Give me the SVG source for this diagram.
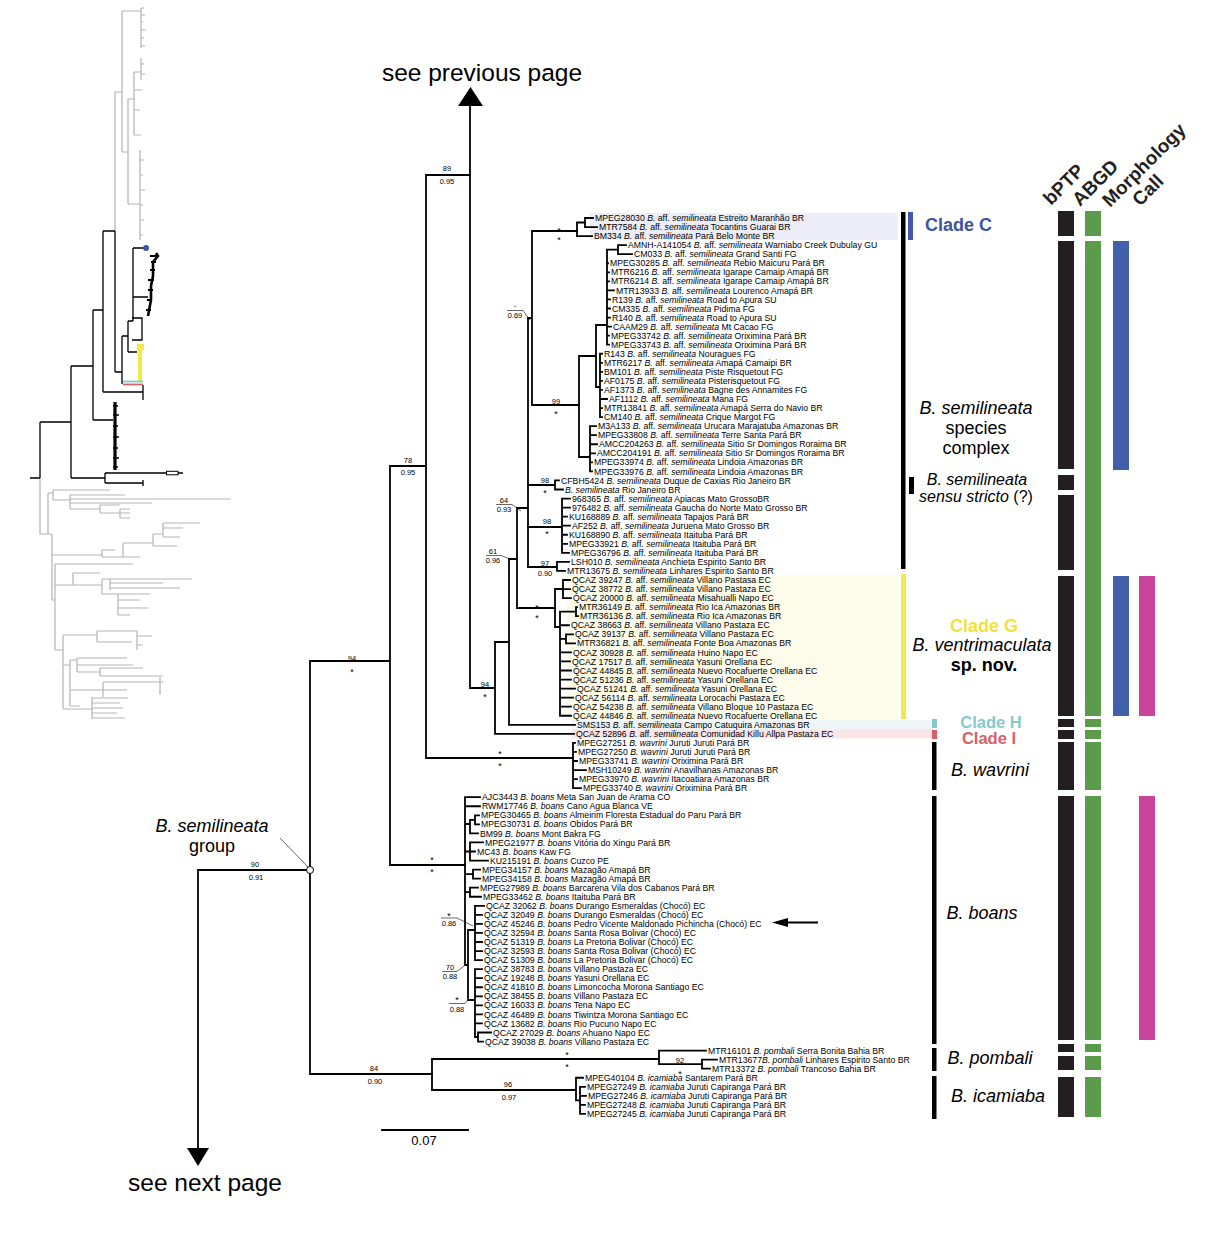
<svg xmlns="http://www.w3.org/2000/svg" width="1213" height="1258" viewBox="0 0 1213 1258">
<style>
text{font-family:'Liberation Sans',Arial,Helvetica,sans-serif;fill:#000}
.b{fill:none;stroke:#000;stroke-width:1.8;stroke-linecap:square}
.tb{fill:none;stroke:#000;stroke-width:1.3}
.tg{fill:none;stroke:#b3b3b3;stroke-width:1.2}
.thin{fill:none;stroke:#000;stroke-width:0.6}
.tl{font-size:8.7px}
.i{font-style:italic}
.s{font-size:7.5px;text-anchor:middle}
.ast{font-size:9px;text-anchor:middle}
.lab{font-size:18px;text-anchor:middle}
.bold{font-weight:bold}
.hd{font-size:19px;font-weight:bold;fill:#231f20}
.bp{fill:#231f20}
.ab{fill:#5b9b4b}
.mo{fill:#4060aa}
.ca{fill:#c9449b}
</style>
<rect width="1213" height="1258" fill="#fff"/>

<g id="thumbnail">
<path class="tg" d="M115,231V92H122M122,11V152M122,11H141M141,8V48M141,8H144M141,15H145M141,22H143M141,30H146M141,38H144M141,46H145M122,152H128M128,99V204M128,99H134M134,72V135M134,72H141M134,90H142M134,110H140M134,135H141M141,58V80M141,64H144M141,74H145M128,204H140M140,150V240M140,160H144M140,175H143M140,190H145M140,205H143M140,220H144M140,235H143"/>
<path class="tg" d="M40,478V534H52M48,493V534M48,493H53M53,490V500M53,490H110M53,500H70M70,495V509M70,495H125M70,499H231M70,503H152M70,509H100M100,505V513M100,505H120M100,513H130M120,509V518M120,509H130M120,518H130M52,534V600M52,555H102M102,550V557M102,557H123M102,550H115M123,543V557M123,543H153M123,557H140M153,534V546M153,534H163M153,546H177M163,523V537M163,523H200M163,528H183M163,537H180M52,600H55M55,564V650M55,564H133M55,585H73M73,573V585M73,573H100M73,585H102M102,579V594M102,579H192M102,594H118M118,594V615M118,594H150M118,600H140M118,608H148M118,615H130M110,579V590M110,583H163M110,588H180M55,650H63M63,635V709M63,635H97M97,631V642M97,631H137M97,642H132M137,631V650M137,636H152M137,645H143M63,665H70M70,660V706M70,660H77M77,658V672M77,658H127M77,665H133M77,672H100M100,668V676M100,668H143M100,676H163M70,690H103M103,682V697M103,682H163M103,690H127M160,677V695M70,706H80M63,709H92M92,697V719M92,698H128M92,703H120M92,708H123M92,713H117M92,718H125"/>
<path class="tb" d="M30,478H40M40,422V478M40,422H71M71,366V478M71,478H105M105,473V483M105,473H167M178,473H183M105,483H143M143,480V486M71,366H93M93,310V420M93,420H113M93,310H103M103,231V392M103,392H143M143,385V400M103,231H115M115,231V372M115,372H122M122,336V384M122,336H128M128,321V352M128,352H137M128,321H133M133,248V321M133,248H143M133,297H148M132,318H142V340H132"/>
<rect x="166.5" y="471.3" width="11.5" height="3.5" fill="none" stroke="#000" stroke-width="1"/>
<path d="M156,253L158,256L153,262V276L151,286V300L148,316" fill="none" stroke="#000" stroke-width="2.6"/>
<path d="M150,256H158M151,262H156M150,270H155M148,280H154M148,290H153M147,300H152M146,310H151" fill="none" stroke="#000" stroke-width="2"/>
<path d="M115,402V470" fill="none" stroke="#000" stroke-width="3.2"/>
<path class="tb" d="M113,406H118M113,415H119M113,426H118M113,437H119M113,448H118M113,458H119M113,467H118"/>
<circle cx="146" cy="248" r="3" fill="#3f54a3"/>
<path d="M137,344H144V350H142V381H138V350H137Z" fill="#f3e84a"/>
<path d="M123,381.5H143" stroke="#86c9cc" stroke-width="1.8"/>
<path d="M123,384.5H143" stroke="#d5606b" stroke-width="1.8"/>
</g>

<g id="highlights">
<rect x="590" y="213" width="308" height="27" fill="#ecedf6"/>
<rect x="567" y="575" width="331" height="145" fill="#fdfbe9"/>
<rect x="572" y="720.3" width="361" height="9" fill="#edf5f6"/>
<rect x="572" y="729.3" width="361" height="9" fill="#f9e5e8"/>
</g>

<g id="connectors">
<path class="b" d="M198,870V1148M198,870H310M310,661V1074M310,661H390M310,1074H432M390,466V865M390,466H426M390,865H465M426,175V758M426,175H470M426,758H573M470,106V688M470,688H495M495,642V733.85M495,642H509M495,733.85H574M509,559V724.8M509,559H517M509,724.8H575M517,508V608M517,508H528M517,608H555M528,318V567M528,318H532M532,231V405M532,231H577M532,405H579"/>
<path class="b" d="M577,222.5V236.1M577,222.5H585M585,218V227.05M585,218H593M585,227.05H597M577,236.1H592"/>
<path class="b" d="M579,356V457M579,356H596M579,457H590M596,325V387M596,325H607M596,387H600M607,249.7V344.7M607,249.7H618M618,245.15V254.2M618,245.15H626M618,254.2H632M607,263.25H608M607,272.3H609M607,281.35H609M607,290.4H614M607,299.45H610M607,308.5H610M607,317.55H610M607,326.6H611M607,335.65H609M607,344.7H609M600,353.75V417.1M600,353.75H602M600,362.8H602M600,371.85H602M600,380.9H602M600,389.95H602M600,399H607M600,408.05H602M600,417.1H602M590,426.15V471.4M590,426.15H596M590,435.2H596M590,444.25H597M590,453.3H595M590,462.35H592M590,471.4H592"/>
<path class="b" d="M528,485H555M555,480.45V489.5M555,480.45H559M555,489.5H563M528,527H562M562,498.55V552.85M562,498.55H570M562,507.6H570M562,516.65H567M562,525.7H570M562,534.75H567M562,543.8H567M562,552.85H569M528,567H557M557,561.9V570.95M557,561.9H569M557,570.95H565"/>
<path class="b" d="M555,589V627M555,589H563M563,580V598.1M563,580H570M563,589.05H570M563,598.1H571M555,627H560M560,611.7V715.75M560,611.7H576M576,607.15V616.2M576,607.15H577M576,616.2H578M560,625.25H569M560,638.8H566M566,634.3V643.35M566,634.3H573M566,643.35H575M560,652.4H571M560,661.45H570M560,670.5H571M560,679.55H571M560,688.6H575M560,697.65H573M560,706.7H571M560,715.75H571"/>
<path class="b" d="M573,742.9V788.15M573,742.9H575M573,751.95H576M573,761H577M573,770.05H586M573,779.1H577M573,788.15H581"/>
<path class="b" d="M465,797.2V965M465,797.2H480M465,806.25H480M465,824H470M470,819.8V833.4M470,819.8H475M475,815.3V824.35M475,815.3H479M475,824.35H479M470,833.4H478M465,851.5H470M470,842.45V860.55M470,842.45H483M470,851.5H475M470,860.55H488M465,874.1H473M473,869.6V878.65M473,869.6H480M473,878.65H480M465,892.2H470M470,887.7V896.75M470,887.7H478M470,896.75H481M465,965H468M468,930V1000M468,930H475M475,905.8V960.1M475,905.8H484M475,914.85H482M475,923.9H482M475,932.95H482M475,942H482M475,951.05H482M475,960.1H482M468,1000H475M475,969.15V1037M475,969.15H482M475,978.2H482M475,987.25H482M475,996.3H482M475,1005.35H482M475,1014.4H482M475,1023.45H482M475,1037H478M478,1032.5V1041.55M478,1032.5H491M478,1041.55H483"/>
<path class="b" d="M432,1059V1090M432,1059H659M659,1050.6V1064.2M659,1050.6H706M659,1064.2H702M702,1059.65V1068.7M702,1059.65H717M702,1068.7H710M432,1090H576M576,1077.75V1100.4M576,1077.75H583M576,1100.4H580M580,1086.8V1113.95M580,1086.8H585M580,1095.85H586M580,1104.9H585M580,1113.95H585"/>
<path class="thin" d="M280,838L308,867M507,310.5H523L530,320M496,504.5H512L521,511M486,555.5H501L510,559M441,918H457L473,926M442,971.5H457L464,966M449,1003.5H465L469,999"/>
<circle cx="310" cy="870" r="3.5" fill="#fff" stroke="#000" stroke-width="1"/>
</g>

<g id="support-values">
<text class="s" x="447" y="170.5">89</text><text class="s" x="447" y="183.5">0.95</text>
<text class="s" x="408" y="462.5">78</text><text class="s" x="408" y="474.5">0.95</text>
<text class="s" x="352" y="660.5">94</text><text class="ast" x="352" y="675">*</text>
<text class="s" x="255" y="866.5">90</text><text class="s" x="256" y="879.5">0.91</text>
<text class="s" x="374" y="1070.5">84</text><text class="s" x="375" y="1083.5">0.90</text>
<text class="s" x="485" y="686.5">94</text><text class="ast" x="485" y="700">*</text>
<text class="ast" x="500" y="757">*</text><text class="ast" x="500" y="769">*</text>
<text class="ast" x="432" y="863">*</text><text class="ast" x="432" y="875">*</text>
<text class="ast" x="567" y="1058">*</text><text class="ast" x="567" y="1070">*</text>
<text class="s" x="680" y="1063">92</text><text class="ast" x="680" y="1077">*</text>
<text class="s" x="508" y="1086.5">96</text><text class="s" x="509" y="1099.5">0.97</text>
<text class="ast" x="559" y="234">*</text><text class="ast" x="559" y="243">*</text>
<text class="s" x="556" y="403.5">99</text><text class="ast" x="556" y="417">*</text>
<text class="s" x="545" y="483">98</text><text class="ast" x="545" y="496">*</text>
<text class="s" x="547" y="523.5">98</text><text class="ast" x="547" y="537">*</text>
<text class="s" x="545" y="565.5">97</text><text class="s" x="545" y="576">0.90</text>
<text class="ast" x="537" y="611">*</text><text class="ast" x="537" y="621">*</text>
<text class="s" x="515" y="308">-</text><text class="s" x="515" y="318">0.69</text>
<text class="s" x="504" y="502.5">64</text><text class="s" x="504" y="512">0.93</text>
<text class="s" x="493" y="553.5">61</text><text class="s" x="493" y="563">0.96</text>
<text class="ast" x="449" y="919">*</text><text class="s" x="449" y="926">0.86</text>
<text class="s" x="450" y="969.5">70</text><text class="s" x="450" y="979">0.88</text>
<text class="ast" x="457" y="1003">*</text><text class="s" x="457" y="1012">0.88</text>
</g>

<g id="tips" class="tl">
<g id="tip1"><text class="tl" x="595" y="221.1">MPEG28030 <tspan class="i">B.</tspan> aff. <tspan class="i">semilineata</tspan> Estreito Maranhão BR</text></g>
<g id="tip2"><text class="tl" x="599" y="230.15">MTR7584 <tspan class="i">B.</tspan> aff. <tspan class="i">semilineata</tspan> Tocantins Guarai BR</text></g>
<g id="tip3"><text class="tl" x="594" y="239.2">BM334 <tspan class="i">B.</tspan> aff. <tspan class="i">semilineata</tspan> Pará Belo Monte BR</text></g>
<g id="tip4"><text class="tl" x="628" y="248.25">AMNH-A141054 <tspan class="i">B.</tspan> aff. <tspan class="i">semilineata</tspan> Warniabo Creek Dubulay GU</text></g>
<g id="tip5"><text class="tl" x="634" y="257.3">CM033 <tspan class="i">B.</tspan> aff. <tspan class="i">semilineata</tspan> Grand Santi FG</text></g>
<g id="tip6"><text class="tl" x="610" y="266.35">MPEG30285 <tspan class="i">B.</tspan> aff. <tspan class="i">semilineata</tspan> Rebio Maicuru Pará BR</text></g>
<g id="tip7"><text class="tl" x="611" y="275.4">MTR6216 <tspan class="i">B.</tspan> aff. <tspan class="i">semilineata</tspan> Igarape Camaip Amapá BR</text></g>
<g id="tip8"><text class="tl" x="611" y="284.45">MTR6214 <tspan class="i">B.</tspan> aff. <tspan class="i">semilineata</tspan> Igarape Camaip Amapá BR</text></g>
<g id="tip9"><text class="tl" x="616" y="293.5">MTR13933 <tspan class="i">B.</tspan> aff. <tspan class="i">semilineata</tspan> Lourenco Amapá BR</text></g>
<g id="tip10"><text class="tl" x="612" y="302.55">R139 <tspan class="i">B.</tspan> aff. <tspan class="i">semilineata</tspan> Road to Apura SU</text></g>
<g id="tip11"><text class="tl" x="612" y="311.6">CM335 <tspan class="i">B.</tspan> aff. <tspan class="i">semilineata</tspan> Pidima FG</text></g>
<g id="tip12"><text class="tl" x="612" y="320.65">R140 <tspan class="i">B.</tspan> aff. <tspan class="i">semilineata</tspan> Road to Apura SU</text></g>
<g id="tip13"><text class="tl" x="613" y="329.7">CAAM29 <tspan class="i">B.</tspan> aff. <tspan class="i">semilineata</tspan> Mt Cacao FG</text></g>
<g id="tip14"><text class="tl" x="611" y="338.75">MPEG33742 <tspan class="i">B.</tspan> aff. <tspan class="i">semilineata</tspan> Oriximina Pará BR</text></g>
<g id="tip15"><text class="tl" x="611" y="347.8">MPEG33743 <tspan class="i">B.</tspan> aff. <tspan class="i">semilineata</tspan> Oriximina Pará BR</text></g>
<g id="tip16"><text class="tl" x="604" y="356.85">R143 <tspan class="i">B.</tspan> aff. <tspan class="i">semilineata</tspan> Nouragues FG</text></g>
<g id="tip17"><text class="tl" x="604" y="365.9">MTR6217 <tspan class="i">B.</tspan> aff. <tspan class="i">semilineata</tspan> Amapá Camaipi BR</text></g>
<g id="tip18"><text class="tl" x="604" y="374.95">BM101 <tspan class="i">B.</tspan> aff. <tspan class="i">semilineata</tspan> Piste Risquetout FG</text></g>
<g id="tip19"><text class="tl" x="604" y="384">AF0175 <tspan class="i">B.</tspan> aff. <tspan class="i">semilineata</tspan> Pisterisquetout FG</text></g>
<g id="tip20"><text class="tl" x="604" y="393.05">AF1373 <tspan class="i">B.</tspan> aff. <tspan class="i">semilineata</tspan> Bagne des Annamites FG</text></g>
<g id="tip21"><text class="tl" x="609" y="402.1">AF1112 <tspan class="i">B.</tspan> aff. <tspan class="i">semilineata</tspan> Mana FG</text></g>
<g id="tip22"><text class="tl" x="604" y="411.15">MTR13841 <tspan class="i">B.</tspan> aff. <tspan class="i">semilineata</tspan> Amapá Serra do Navio BR</text></g>
<g id="tip23"><text class="tl" x="604" y="420.2">CM140 <tspan class="i">B.</tspan> aff. <tspan class="i">semilineata</tspan> Crique Margot FG</text></g>
<g id="tip24"><text class="tl" x="598" y="429.25">M3A133 <tspan class="i">B.</tspan> aff. <tspan class="i">semilineata</tspan> Urucara Marajatuba Amazonas BR</text></g>
<g id="tip25"><text class="tl" x="598" y="438.3">MPEG33808 <tspan class="i">B.</tspan> aff. <tspan class="i">semilineata</tspan> Terre Santa Pará BR</text></g>
<g id="tip26"><text class="tl" x="599" y="447.35">AMCC204263 <tspan class="i">B.</tspan> aff. <tspan class="i">semilineata</tspan> Sitio Sr Domingos Roraima BR</text></g>
<g id="tip27"><text class="tl" x="597" y="456.4">AMCC204191 <tspan class="i">B.</tspan> aff. <tspan class="i">semilineata</tspan> Sitio Sr Domingos Roraima BR</text></g>
<g id="tip28"><text class="tl" x="594" y="465.45">MPEG33974 <tspan class="i">B.</tspan> aff. <tspan class="i">semilineata</tspan> Lindoia Amazonas BR</text></g>
<g id="tip29"><text class="tl" x="594" y="474.5">MPEG33976 <tspan class="i">B.</tspan> aff. <tspan class="i">semilineata</tspan> Lindoia Amazonas BR</text></g>
<g id="tip30"><text class="tl" x="561" y="483.55">CFBH5424 <tspan class="i">B. semilineata</tspan> Duque de Caxias Rio Janeiro BR</text></g>
<g id="tip31"><text class="tl" x="565" y="492.6"><tspan class="i">B. semilineata</tspan> Rio Janeiro BR</text></g>
<g id="tip32"><text class="tl" x="572" y="501.65">968365 <tspan class="i">B.</tspan> aff. <tspan class="i">semilineata</tspan> Apiacas Mato GrossoBR</text></g>
<g id="tip33"><text class="tl" x="572" y="510.7">976482 <tspan class="i">B.</tspan> aff. <tspan class="i">semilineata</tspan> Gaucha do Norte Mato Grosso BR</text></g>
<g id="tip34"><text class="tl" x="569" y="519.75">KU168889 <tspan class="i">B.</tspan> aff. <tspan class="i">semilineata</tspan> Tapajos Pará BR</text></g>
<g id="tip35"><text class="tl" x="572" y="528.8">AF252 <tspan class="i">B.</tspan> aff. <tspan class="i">semilineata</tspan> Juruena Mato Grosso BR</text></g>
<g id="tip36"><text class="tl" x="569" y="537.85">KU168890 <tspan class="i">B.</tspan> aff. <tspan class="i">semilineata</tspan> Itaituba Pará BR</text></g>
<g id="tip37"><text class="tl" x="569" y="546.9">MPEG33921 <tspan class="i">B.</tspan> aff. <tspan class="i">semilineata</tspan> Itaituba Pará BR</text></g>
<g id="tip38"><text class="tl" x="571" y="555.95">MPEG36796 <tspan class="i">B.</tspan> aff. <tspan class="i">semilineata</tspan> Itaituba Pará BR</text></g>
<g id="tip39"><text class="tl" x="571" y="565">LSH010 <tspan class="i">B. semilineata</tspan> Anchieta Espirito Santo BR</text></g>
<g id="tip40"><text class="tl" x="567" y="574.05">MTR13675 <tspan class="i">B. semilineata</tspan> Linhares Espirito Santo BR</text></g>
<g id="tip41"><text class="tl" x="572" y="583.1">QCAZ 39247 <tspan class="i">B.</tspan> aff. <tspan class="i">semilineata</tspan> Villano Pastasa EC</text></g>
<g id="tip42"><text class="tl" x="572" y="592.15">QCAZ 38772 <tspan class="i">B.</tspan> aff. <tspan class="i">semilineata</tspan> Villano Pastaza EC</text></g>
<g id="tip43"><text class="tl" x="573" y="601.2">QCAZ 20000 <tspan class="i">B.</tspan> aff. <tspan class="i">semilineata</tspan> Misahualli Napo EC</text></g>
<g id="tip44"><text class="tl" x="579" y="610.25">MTR36149 <tspan class="i">B.</tspan> aff. <tspan class="i">semilineata</tspan> Rio Ica Amazonas BR</text></g>
<g id="tip45"><text class="tl" x="580" y="619.3">MTR36136 <tspan class="i">B.</tspan> aff. <tspan class="i">semilineata</tspan> Rio Ica Amazonas BR</text></g>
<g id="tip46"><text class="tl" x="571" y="628.35">QCAZ 38663 <tspan class="i">B.</tspan> aff. <tspan class="i">semilineata</tspan> Villano Pastaza EC</text></g>
<g id="tip47"><text class="tl" x="575" y="637.4">QCAZ 39137 <tspan class="i">B.</tspan> aff. <tspan class="i">semilineata</tspan> Villano Pastaza EC</text></g>
<g id="tip48"><text class="tl" x="577" y="646.45">MTR36821 <tspan class="i">B.</tspan> aff. <tspan class="i">semilineata</tspan> Fonte Boa Amazonas BR</text></g>
<g id="tip49"><text class="tl" x="573" y="655.5">QCAZ 30928 <tspan class="i">B.</tspan> aff. <tspan class="i">semilineata</tspan> Huino Napo EC</text></g>
<g id="tip50"><text class="tl" x="572" y="664.55">QCAZ 17517 <tspan class="i">B.</tspan> aff. <tspan class="i">semilineata</tspan> Yasuni Orellana EC</text></g>
<g id="tip51"><text class="tl" x="573" y="673.6">QCAZ 44845 <tspan class="i">B.</tspan> aff. <tspan class="i">semilineata</tspan> Nuevo Rocafuerte Orellana EC</text></g>
<g id="tip52"><text class="tl" x="573" y="682.65">QCAZ 51236 <tspan class="i">B.</tspan> aff. <tspan class="i">semilineata</tspan> Yasuni Orellana EC</text></g>
<g id="tip53"><text class="tl" x="577" y="691.7">QCAZ 51241 <tspan class="i">B.</tspan> aff. <tspan class="i">semilineata</tspan> Yasuni Orellana EC</text></g>
<g id="tip54"><text class="tl" x="575" y="700.75">QCAZ 56114 <tspan class="i">B.</tspan> aff. <tspan class="i">semilineata</tspan> Lorocachi Pastaza EC</text></g>
<g id="tip55"><text class="tl" x="573" y="709.8">QCAZ 54238 <tspan class="i">B.</tspan> aff. <tspan class="i">semilineata</tspan> Villano Bloque 10 Pastaza EC</text></g>
<g id="tip56"><text class="tl" x="573" y="718.85">QCAZ 44846 <tspan class="i">B.</tspan> aff. <tspan class="i">semilineata</tspan> Nuevo Rocafuerte Orellana EC</text></g>
<g id="tip57"><text class="tl" x="577" y="727.9">SMS153 <tspan class="i">B.</tspan> aff. <tspan class="i">semilineata</tspan> Campo Catuquira Amazonas BR</text></g>
<g id="tip58"><text class="tl" x="576" y="736.95">QCAZ 52896 <tspan class="i">B.</tspan> aff. <tspan class="i">semilineata</tspan> Comunidad Killu Allpa Pastaza EC</text></g>
<g id="tip59"><text class="tl" x="577" y="746">MPEG27251 <tspan class="i">B. wavrini</tspan> Juruti Juruti Pará BR</text></g>
<g id="tip60"><text class="tl" x="578" y="755.05">MPEG27250 <tspan class="i">B. wavrini</tspan> Juruti Juruti Pará BR</text></g>
<g id="tip61"><text class="tl" x="579" y="764.1">MPEG33741 <tspan class="i">B. wavrini</tspan> Oriximina Pará BR</text></g>
<g id="tip62"><text class="tl" x="588" y="773.15">MSH10249 <tspan class="i">B. wavrini</tspan> Anavilhanas Amazonas BR</text></g>
<g id="tip63"><text class="tl" x="579" y="782.2">MPEG33970 <tspan class="i">B. wavrini</tspan> Itacoatiara Amazonas BR</text></g>
<g id="tip64"><text class="tl" x="583" y="791.25">MPEG33740 <tspan class="i">B. wavrini</tspan> Oriximina Pará BR</text></g>
<g id="tip65"><text class="tl" x="482" y="800.3">AJC3443 <tspan class="i">B. boans</tspan> Meta San Juan de Arama CO</text></g>
<g id="tip66"><text class="tl" x="482" y="809.35">RWM17746 <tspan class="i">B. boans</tspan> Cano Agua Blanca VE</text></g>
<g id="tip67"><text class="tl" x="481" y="818.4">MPEG30465 <tspan class="i">B. boans</tspan> Almeirim Floresta Estadual do Paru Pará BR</text></g>
<g id="tip68"><text class="tl" x="481" y="827.45">MPEG30731 <tspan class="i">B. boans</tspan> Obidos Pará BR</text></g>
<g id="tip69"><text class="tl" x="480" y="836.5">BM99 <tspan class="i">B. boans</tspan> Mont Bakra FG</text></g>
<g id="tip70"><text class="tl" x="485" y="845.55">MPEG21977 <tspan class="i">B. boans</tspan> Vitória do Xingu Pará BR</text></g>
<g id="tip71"><text class="tl" x="477" y="854.6">MC43 <tspan class="i">B. boans</tspan> Kaw FG</text></g>
<g id="tip72"><text class="tl" x="490" y="863.65">KU215191 <tspan class="i">B. boans</tspan> Cuzco PE</text></g>
<g id="tip73"><text class="tl" x="482" y="872.7">MPEG34157 <tspan class="i">B. boans</tspan> Mazagão Amapá BR</text></g>
<g id="tip74"><text class="tl" x="482" y="881.75">MPEG34158 <tspan class="i">B. boans</tspan> Mazagão Amapá BR</text></g>
<g id="tip75"><text class="tl" x="480" y="890.8">MPEG27989 <tspan class="i">B. boans</tspan> Barcarena Vila dos Cabanos Pará BR</text></g>
<g id="tip76"><text class="tl" x="483" y="899.85">MPEG33462 <tspan class="i">B. boans</tspan> Itaituba Pará BR</text></g>
<g id="tip77"><text class="tl" x="486" y="908.9">QCAZ 32062 <tspan class="i">B. boans</tspan> Durango Esmeraldas (Chocó) EC</text></g>
<g id="tip78"><text class="tl" x="484" y="917.95">QCAZ 32049 <tspan class="i">B. boans</tspan> Durango Esmeraldas (Chocó) EC</text></g>
<g id="tip79"><text class="tl" x="484" y="927">QCAZ 45246 <tspan class="i">B. boans</tspan> Pedro Vicente Maldonado Pichincha (Chocó) EC</text></g>
<g id="tip80"><text class="tl" x="484" y="936.05">QCAZ 32594 <tspan class="i">B. boans</tspan> Santa Rosa Bolivar (Chocó) EC</text></g>
<g id="tip81"><text class="tl" x="484" y="945.1">QCAZ 51319 <tspan class="i">B. boans</tspan> La Pretoria Bolivar (Chocó) EC</text></g>
<g id="tip82"><text class="tl" x="484" y="954.15">QCAZ 32593 <tspan class="i">B. boans</tspan> Santa Rosa Bolivar (Chocó) EC</text></g>
<g id="tip83"><text class="tl" x="484" y="963.2">QCAZ 51309 <tspan class="i">B. boans</tspan> La Pretoria Bolivar (Chocó) EC</text></g>
<g id="tip84"><text class="tl" x="484" y="972.25">QCAZ 38783 <tspan class="i">B. boans</tspan> Villano Pastaza EC</text></g>
<g id="tip85"><text class="tl" x="484" y="981.3">QCAZ 19248 <tspan class="i">B. boans</tspan> Yasuni Orellana EC</text></g>
<g id="tip86"><text class="tl" x="484" y="990.35">QCAZ 41810 <tspan class="i">B. boans</tspan> Limoncocha Morona Santiago EC</text></g>
<g id="tip87"><text class="tl" x="484" y="999.4">QCAZ 38455 <tspan class="i">B. boans</tspan> Villano Pastaza EC</text></g>
<g id="tip88"><text class="tl" x="484" y="1008.45">QCAZ 16033 <tspan class="i">B. boans</tspan> Tena Napo EC</text></g>
<g id="tip89"><text class="tl" x="484" y="1017.5">QCAZ 46489 <tspan class="i">B. boans</tspan> Tiwintza Morona Santiago EC</text></g>
<g id="tip90"><text class="tl" x="484" y="1026.55">QCAZ 13682 <tspan class="i">B. boans</tspan> Rio Pucuno Napo EC</text></g>
<g id="tip91"><text class="tl" x="493" y="1035.6">QCAZ 27029 <tspan class="i">B. boans</tspan> Ahuano Napo EC</text></g>
<g id="tip92"><text class="tl" x="485" y="1044.65">QCAZ 39038 <tspan class="i">B. boans</tspan> Villano Pastaza EC</text></g>
<g id="tip93"><text class="tl" x="708" y="1053.7">MTR16101 <tspan class="i">B. pombali</tspan> Serra Bonita Bahia BR</text></g>
<g id="tip94"><text class="tl" x="719" y="1062.75">MTR13677<tspan class="i">B. pombali</tspan> Linhares Espirito Santo BR</text></g>
<g id="tip95"><text class="tl" x="712" y="1071.8">MTR13372 <tspan class="i">B. pombali</tspan> Trancoso Bahia BR</text></g>
<g id="tip96"><text class="tl" x="585" y="1080.85">MPEG40104 <tspan class="i">B. icamiaba</tspan> Santarem Pará BR</text></g>
<g id="tip97"><text class="tl" x="587" y="1089.9">MPEG27249 <tspan class="i">B. icamiaba</tspan> Juruti Capiranga Pará BR</text></g>
<g id="tip98"><text class="tl" x="588" y="1098.95">MPEG27246 <tspan class="i">B. icamiaba</tspan> Juruti Capiranga Pará BR</text></g>
<g id="tip99"><text class="tl" x="587" y="1108">MPEG27248 <tspan class="i">B. icamiaba</tspan> Juruti Capiranga Pará BR</text></g>
<g id="tip100"><text class="tl" x="587" y="1117.05">MPEG27245 <tspan class="i">B. icamiaba</tspan> Juruti Capiranga Pará BR</text></g>
</g>

<g id="clade-bars">
<rect x="901" y="212" width="4.5" height="357" fill="#000"/>
<rect x="908" y="212" width="5" height="28" fill="#4257a8"/>
<rect x="909" y="477" width="5" height="17" fill="#000"/>
<rect x="901" y="574" width="5" height="145" fill="#f3e84a"/>
<rect x="932" y="719" width="5" height="9" fill="#86c9cc"/>
<rect x="932" y="730" width="5" height="9" fill="#d5606b"/>
<rect x="932" y="742" width="4.5" height="48" fill="#000"/>
<rect x="932" y="796" width="4.5" height="248" fill="#000"/>
<rect x="932" y="1048" width="4.5" height="23" fill="#000"/>
<rect x="932" y="1076" width="4.5" height="43" fill="#000"/>
</g>

<g id="clade-labels">
<text x="925" y="231" class="bold" style="font-size:18px;fill:#3d52a1">Clade C</text>
<text class="lab i" x="976" y="414">B. semilineata</text>
<text class="lab" x="976" y="434">species</text>
<text class="lab" x="976" y="454">complex</text>
<text class="lab i" x="977" y="485" style="font-size:16px">B. semilineata</text>
<text class="lab" x="976" y="502" style="font-size:16px"><tspan class="i">sensu stricto</tspan> (?)</text>
<text class="lab bold" x="984" y="632" style="fill:#f2e13d">Clade G</text>
<text class="lab" x="982" y="651"><tspan class="i">B.</tspan> <tspan class="i">ventrimaculata</tspan></text>
<text class="lab bold" x="984" y="671">sp. nov.</text>
<text class="lab bold" x="991" y="727.5" style="font-size:16.5px;fill:#86c9cc">Clade H</text>
<text class="lab bold" x="989" y="743.5" style="font-size:16.5px;fill:#d5606b">Clade I</text>
<text class="lab i" x="990" y="776">B. wavrini</text>
<text class="lab i" x="982" y="919">B. boans</text>
<text class="lab i" x="990" y="1064">B. pombali</text>
<text class="lab i" x="998" y="1102">B. icamiaba</text>
<text class="lab i" x="212" y="832">B. semilineata</text>
<text class="lab" x="212" y="852">group</text>
</g>

<g id="delimitation">
<text class="hd" transform="translate(1051,206) rotate(-45)">bPTP</text>
<text class="hd" transform="translate(1080,207) rotate(-45)">ABGD</text>
<text class="hd" transform="translate(1110,208) rotate(-45)">Morphology</text>
<text class="hd" transform="translate(1140,207) rotate(-45)">Call</text>
<g id="bPTP" class="bp">
<rect x="1058" y="211" width="16" height="25"/>
<rect x="1058" y="241" width="16" height="228"/>
<rect x="1058" y="475" width="16" height="15"/>
<rect x="1058" y="495" width="16" height="75"/>
<rect x="1058" y="576" width="16" height="140"/>
<rect x="1058" y="719" width="16" height="8"/>
<rect x="1058" y="730" width="16" height="9"/>
<rect x="1058" y="742" width="16" height="48"/>
<rect x="1058" y="796" width="16" height="244"/>
<rect x="1058" y="1044" width="16" height="8"/>
<rect x="1058" y="1056" width="16" height="14"/>
<rect x="1058" y="1077" width="16" height="40"/>
</g>
<g id="ABGD" class="ab">
<rect x="1085" y="211" width="16" height="25"/>
<rect x="1085" y="241" width="16" height="475"/>
<rect x="1085" y="719" width="16" height="8"/>
<rect x="1085" y="730" width="16" height="9"/>
<rect x="1085" y="742" width="16" height="48"/>
<rect x="1085" y="796" width="16" height="244"/>
<rect x="1085" y="1044" width="16" height="8"/>
<rect x="1085" y="1056" width="16" height="14"/>
<rect x="1085" y="1077" width="16" height="40"/>
</g>
<g id="Morphology" class="mo">
<rect x="1113" y="241" width="16" height="229"/>
<rect x="1113" y="576" width="16" height="140"/>
</g>
<g id="Call" class="ca">
<rect x="1139" y="576" width="16" height="140"/>
<rect x="1139" y="796" width="16" height="244"/>
</g>
</g>

<g id="annotations">
<polygon points="470.5,87 458,106 483,106" fill="#000"/>
<text x="482" y="81" text-anchor="middle" style="font-size:24.5px">see previous page</text>
<polygon points="198,1166 187,1148 209,1148" fill="#000"/>
<text x="205" y="1191" text-anchor="middle" style="font-size:24.5px">see next page</text>
<path class="b" d="M382,1130H468"/>
<text x="424" y="1145" text-anchor="middle" style="font-size:13px">0.07</text>
<path d="M785,922.5H818" stroke="#000" stroke-width="1.8"/>
<polygon points="772,922.5 788,918 788,927" fill="#000"/>
</g>
</svg>
